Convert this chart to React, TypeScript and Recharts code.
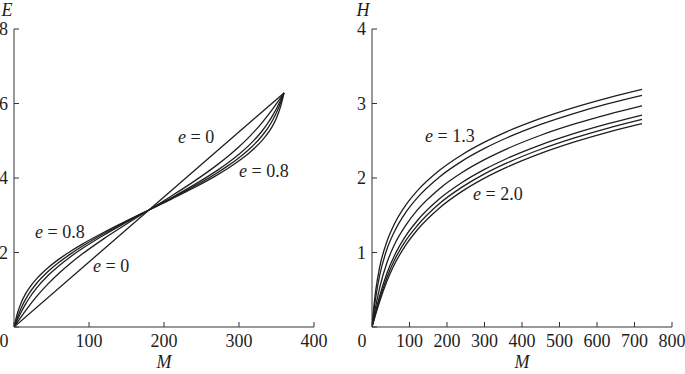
import React from 'react';
import { LineChart, Line, XAxis, YAxis } from 'recharts';

// ---------- Left panel: E vs M (elliptic) ----------
const leftM = [0, 2, 5, 10, 15, 20, 30, 45, 60, 75, 90, 120, 150, 180, 210, 240, 270, 285, 300, 315, 330, 340, 345, 350, 355, 358, 360];
const leftE08 = [0, 0.171, 0.396, 0.674, 0.877, 1.038, 1.293, 1.585, 1.822, 2.027, 2.212, 2.544, 2.849, 3.142, 3.434, 3.739, 4.071, 4.256, 4.461, 4.698, 4.99, 5.245, 5.406, 5.61, 5.888, 6.112, 6.283];
const leftE07 = [0, 0.116, 0.282, 0.526, 0.727, 0.896, 1.168, 1.483, 1.738, 1.957, 2.155, 2.509, 2.833, 3.142, 3.45, 3.774, 4.128, 4.326, 4.545, 4.8, 5.115, 5.387, 5.556, 5.757, 6.001, 6.167, 6.283];
const leftE06 = [0, 0.087, 0.216, 0.418, 0.601, 0.765, 1.042, 1.374, 1.646, 1.881, 2.092, 2.469, 2.813, 3.142, 3.47, 3.814, 4.191, 4.402, 4.637, 4.909, 5.241, 5.518, 5.682, 5.865, 6.067, 6.196, 6.283];
const leftE04 = [0, 0.058, 0.145, 0.288, 0.428, 0.563, 0.815, 1.151, 1.444, 1.706, 1.944, 2.373, 2.765, 3.142, 3.518, 3.91, 4.339, 4.577, 4.839, 5.132, 5.468, 5.72, 5.855, 5.995, 6.138, 6.225, 6.283];
const leftM0 = [0, 360];
const leftE0 = [0, 6.283];
const leftXTicks = [0, 100, 200, 300, 400];
const leftYTicks = [0, 2, 4, 6, 8];

// ---------- Right panel: H vs M (hyperbolic) ----------
const rightM = [0, 2, 5, 10, 20, 40, 60, 90, 120, 180, 240, 300, 360, 450, 540, 630, 720];
const rightH13 = [0, 0.115, 0.276, 0.494, 0.793, 1.151, 1.385, 1.635, 1.823, 2.103, 2.313, 2.481, 2.623, 2.8, 2.949, 3.077, 3.19];
const rightH14 = [0, 0.087, 0.213, 0.399, 0.683, 1.046, 1.282, 1.538, 1.73, 2.015, 2.227, 2.397, 2.54, 2.72, 2.869, 2.998, 3.11];
const rightH16 = [0, 0.058, 0.144, 0.281, 0.519, 0.865, 1.107, 1.365, 1.565, 1.857, 2.074, 2.247, 2.392, 2.574, 2.725, 2.855, 2.97];
const rightH18 = [0, 0.044, 0.109, 0.214, 0.41, 0.726, 0.961, 1.224, 1.423, 1.72, 1.939, 2.115, 2.262, 2.445, 2.598, 2.729, 2.845];
const rightH19 = [0, 0.039, 0.097, 0.192, 0.37, 0.668, 0.899, 1.159, 1.356, 1.657, 1.877, 2.055, 2.202, 2.386, 2.539, 2.671, 2.787];
const rightH20 = [0, 0.035, 0.087, 0.173, 0.336, 0.618, 0.842, 1.1, 1.299, 1.598, 1.82, 1.998, 2.145, 2.33, 2.484, 2.617, 2.73];
const rightXTicks = [0, 100, 200, 300, 400, 500, 600, 700, 800];
const rightYTicks = [0, 1, 2, 3, 4];

const FONT = '"Liberation Serif", "Times New Roman", Times, serif';
const FS = 18;
const INK = '#1e1e1e';
const AXIS = '#333';

const toData = (xs: number[], ys: number[]) => xs.map((x, i) => ({ x, y: ys[i] }));

const leftSeries = [leftE08, leftE07, leftE06, leftE04].map((ys) => toData(leftM, ys));
const leftLine0 = toData(leftM0, leftE0);
const rightSeries = [rightH13, rightH14, rightH16, rightH18, rightH19, rightH20].map((ys) => toData(rightM, ys));

const XTick = (props: any) => {
  const { x, y, payload } = props;
  const v = payload.value;
  const dx = v === 0 ? -10 : 0;
  return (
    <g>
      <line x1={x} y1={y} x2={x} y2={y - 5} stroke={AXIS} strokeWidth={1} />
      <text x={x + dx} y={y + 20} textAnchor="middle" fontSize={FS} fill={INK} style={{ fontFamily: FONT }}>
        {v}
      </text>
    </g>
  );
};

const YTick = (props: any) => {
  const { x, y, payload } = props;
  const v = payload.value;
  return (
    <g>
      <line x1={x} y1={y} x2={x + 5} y2={y} stroke={AXIS} strokeWidth={1} />
      {v !== 0 && (
        <text x={x - 6} y={y + 6} textAnchor="end" fontSize={FS} fill={INK} style={{ fontFamily: FONT }}>
          {v}
        </text>
      )}
    </g>
  );
};

const Ann = ({ x, y, rest }: { x: number; y: number; rest: string }) => (
  <text x={x} y={y} fontSize={FS} fill={INK} style={{ fontFamily: FONT }}>
    <tspan fontStyle="italic">e</tspan>
    <tspan>{' = ' + rest}</tspan>
  </text>
);

export default function App() {
  return (
    <div style={{ position: 'absolute', left: 0, top: 0, width: 685, height: 374, background: '#fff' }}>
      <div style={{ position: 'absolute', left: 0, top: 0 }}>
        <LineChart width={340} height={374} margin={{ top: 29, right: 26, bottom: 0, left: 0 }}>
          <XAxis
            dataKey="x"
            type="number"
            domain={[0, 400]}
            ticks={leftXTicks}
            height={47}
            tickSize={0}
            tickMargin={0}
            tickLine={false}
            tick={<XTick />}
            axisLine={{ stroke: AXIS, strokeWidth: 1 }}
            interval={0}
            allowDataOverflow
          />
          <YAxis
            type="number"
            domain={[0, 8]}
            ticks={leftYTicks}
            width={14}
            tickSize={0}
            tickMargin={0}
            tickLine={false}
            tick={<YTick />}
            axisLine={{ stroke: AXIS, strokeWidth: 1 }}
            interval={0}
            allowDataOverflow
          />
          <Line data={leftLine0} dataKey="y" type="linear" stroke={INK} strokeWidth={1.3} dot={false} isAnimationActive={false} />
          {leftSeries.map((d, i) => (
            <Line key={i} data={d} dataKey="y" type="monotone" stroke={INK} strokeWidth={1.3} dot={false} isAnimationActive={false} />
          ))}
        </LineChart>
      </div>
      <div style={{ position: 'absolute', left: 340, top: 0 }}>
        <LineChart width={345} height={374} margin={{ top: 29, right: 13, bottom: 0, left: 0 }}>
          <XAxis
            dataKey="x"
            type="number"
            domain={[0, 800]}
            ticks={rightXTicks}
            height={47}
            tickSize={0}
            tickMargin={0}
            tickLine={false}
            tick={<XTick />}
            axisLine={{ stroke: AXIS, strokeWidth: 1 }}
            interval={0}
            allowDataOverflow
          />
          <YAxis
            type="number"
            domain={[0, 4]}
            ticks={rightYTicks}
            width={32}
            tickSize={0}
            tickMargin={0}
            tickLine={false}
            tick={<YTick />}
            axisLine={{ stroke: AXIS, strokeWidth: 1 }}
            interval={0}
            allowDataOverflow
          />
          {rightSeries.map((d, i) => (
            <Line key={i} data={d} dataKey="y" type="monotone" stroke={INK} strokeWidth={1.3} dot={false} isAnimationActive={false} />
          ))}
        </LineChart>
      </div>
      <svg width={685} height={374} style={{ position: 'absolute', left: 0, top: 0, pointerEvents: 'none' }}>
        <text x={7} y={15.5} textAnchor="middle" fontSize={FS} fontStyle="italic" fill={INK} style={{ fontFamily: FONT }}>E</text>
        <text x={363} y={15.5} textAnchor="middle" fontSize={FS} fontStyle="italic" fill={INK} style={{ fontFamily: FONT }}>H</text>
        <text x={164} y={368} textAnchor="middle" fontSize={FS} fontStyle="italic" fill={INK} style={{ fontFamily: FONT }}>M</text>
        <text x={522} y={368} textAnchor="middle" fontSize={FS} fontStyle="italic" fill={INK} style={{ fontFamily: FONT }}>M</text>
        <Ann x={178} y={143} rest="0" />
        <Ann x={239} y={177} rest="0.8" />
        <Ann x={35} y={238} rest="0.8" />
        <Ann x={93} y={271.5} rest="0" />
        <Ann x={425} y={141.5} rest="1.3" />
        <Ann x={473} y={200} rest="2.0" />
      </svg>
    </div>
  );
}
